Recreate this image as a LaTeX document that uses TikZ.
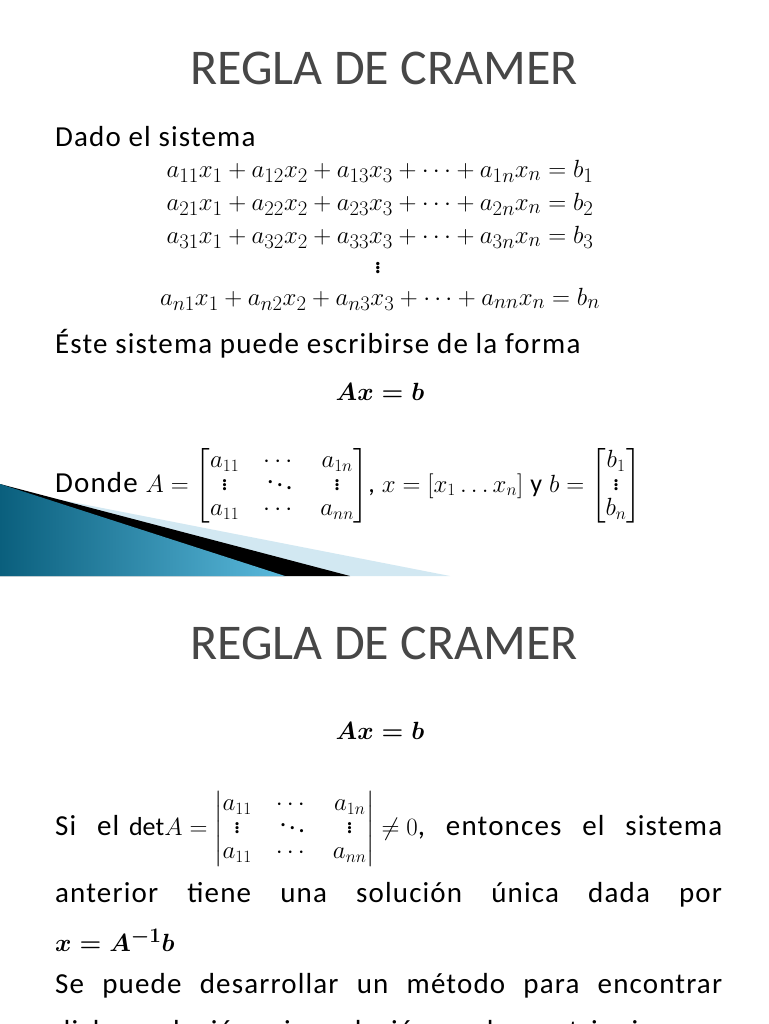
\documentclass[tikz,border=0pt]{standalone}
\usepackage{amsmath}
\usepackage{fontspec}
\setmainfont{Carlito}[LetterSpace=4]
\definecolor{tealA}{RGB}{10,95,125}
\definecolor{tealB}{RGB}{90,185,220}
\definecolor{paleB}{RGB}{210,232,242}
\begin{document}
\begin{tikzpicture}[x=1pt,y=-1pt,
 ttl/.style={text=black!72,font=\fontsize{50}{54}\selectfont\addfontfeature{LetterSpace=0}},
 body/.style={font=\fontsize{29}{32}\selectfont,anchor=west,inner sep=0},
 eq/.style={font=\fontsize{28}{32}\selectfont,inner sep=0}]
\useasboundingbox (0,0) rectangle (768,1024);
\fill[white] (0,0) rectangle (768,1024);
% decoration
\fill[paleB] (0,488) -- (450,576) -- (0,576) -- cycle;
\fill[black] (0,484) -- (350,576) -- (0,576) -- cycle;
\shade[left color=tealA, right color=tealB] (0,484) -- (285,576) -- (0,576) -- cycle;
% slide 1
\node[ttl] (t1) at (384,68) {REGLA DE CRAMER};
\node[body] (d1) at (55,137) {Dado el sistema};
\node[eq] (e1) at (380,171) {$a_{11}x_1+a_{12}x_2+a_{13}x_3+\cdots+a_{1n}x_n=b_1$};
\node[eq] (e2) at (380,204) {$a_{21}x_1+a_{22}x_2+a_{23}x_3+\cdots+a_{2n}x_n=b_2$};
\node[eq] (e3) at (380,237) {$a_{31}x_1+a_{32}x_2+a_{33}x_3+\cdots+a_{3n}x_n=b_3$};
\node[eq] (e4) at (378,265) {$\vdots$};
\node[eq] (e5) at (380,299) {$a_{n1}x_1+a_{n2}x_2+a_{n3}x_3+\cdots+a_{nn}x_n=b_n$};
\node[body] (s1) at (55,344) {Éste sistema puede escribirse de la forma};
\node[eq] (ax1) at (380,392) {$\boldsymbol{Ax=b}$};
\node[body] (don) at (55,486) {Donde \fontsize{26}{28}\selectfont$A=\left[\begin{array}{@{}c@{\hspace{24pt}}c@{\hspace{24pt}}c@{}}a_{11}&\cdots&a_{1n}\\[-5pt] \vdots&\ddots&\vdots\\[-3pt] a_{11}&\cdots&a_{nn}\end{array}\right]$, $x=[x_1\ldots x_n]$ y $b=\left[\begin{array}{@{}c@{}}b_1\\[-5pt] \vdots\\[-3pt] b_n\end{array}\right]$};
% slide 2
\node[ttl] (t2) at (384,643) {REGLA DE CRAMER};
\node[eq] (ax2) at (380,731) {$\boldsymbol{Ax=b}$};
\node[body,text width=667pt] (si) at (55,829) {Si\hfill el \fontsize{26}{28}\selectfont$\mathrm{det}A=\left|\begin{array}{@{}c@{\hspace{24pt}}c@{\hspace{24pt}}c@{}}a_{11}&\cdots&a_{1n}\\[-5pt] \vdots&\ddots&\vdots\\[-3pt] a_{11}&\cdots&a_{nn}\end{array}\right|\neq 0$\fontsize{29}{32}\selectfont,\hfill entonces\hfill el\hfill sistema};
\node[body,text width=667pt] (an) at (55,895) {anterior\hfill tiene\hfill una\hfill solución\hfill única\hfill dada\hfill por};
\node[eq,anchor=west] (xa) at (55,940) {$\boldsymbol{x=A^{-1}b}$};
\node[body,text width=667pt] (se) at (55,986) {Se\hfill puede\hfill desarrollar\hfill un\hfill método\hfill para\hfill encontrar};
\begin{scope}
\clip (0,1000) rectangle (768,1024);
\node[body,text width=667pt] (di) at (55,1031) {dicha\hfill solución\hfill sin\hfill relación\hfill a\hfill la\hfill matriz\hfill inversa};
\end{scope}
\end{tikzpicture}
\end{document}
